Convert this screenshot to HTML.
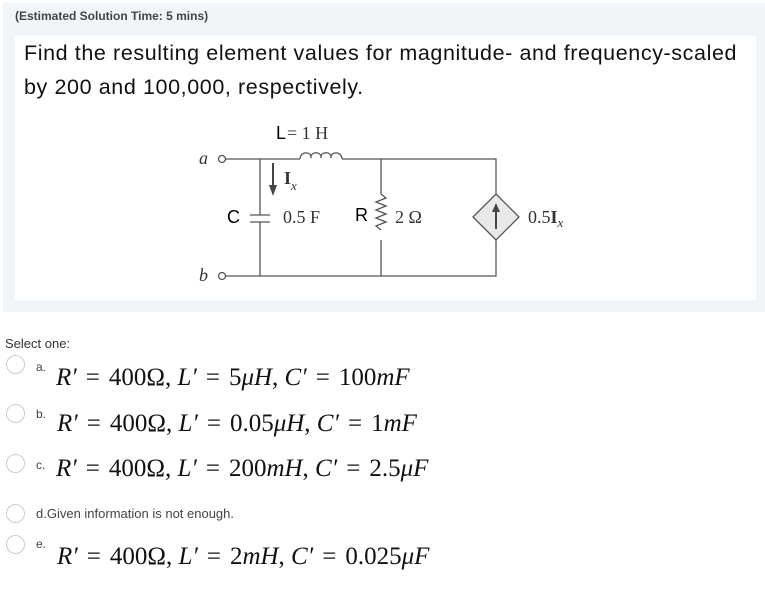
<!DOCTYPE html>
<html><head><style>
body{margin:0;width:765px;height:606px;background:#fff;position:relative;font-family:"Liberation Sans",sans-serif;overflow:hidden}
.abs{position:absolute}
.panel{left:3px;top:3px;width:762px;height:309px;background:#f2f5f8}
.box{left:15px;top:36px;width:741px;height:264px;background:#fff}
.q{left:24px;font-family:"Liberation Sans",sans-serif;font-size:21.5px;letter-spacing:0.6px;color:#111;white-space:nowrap}
.rad{width:17px;height:17px;border:1px solid #ccc;border-radius:50%;left:6px;background:#fff}
.lt{font-size:12px;color:#444}
.f{font-family:"Liberation Serif",serif;font-size:25px;color:#111;white-space:nowrap}
.f i{font-style:italic}
.e{margin:0 9px}
</style></head><body>
<div class="abs panel"></div>
<div class="abs box"></div>
<div class="abs" style="left:15px;top:9px;font-size:12px;font-weight:bold;color:#444">(Estimated Solution Time: 5 mins)</div>
<div class="abs q" style="top:41px">Find the resulting element values for magnitude- and frequency-scaled</div>
<div class="abs q" style="top:75px">by 200 and 100,000, respectively.</div>
<svg class="abs" style="left:0;top:0" width="765" height="310">
<g stroke="#555" stroke-width="1.3" fill="none">
<circle cx="222" cy="159" r="3.5" fill="#fff"/><circle cx="222" cy="276" r="3.5" fill="#fff"/>
<path d="M226 159H300 M342 159H496V194 M496 240V276H226 M260 159V215 M260 222V276 M381 159V194 M381 240V276"/>
<path d="M300 159C300 151 312 151 311 158C310 151 322 151 321 158C320 151 332 151 331 158C330 151 342 151 342 159"/>
<path d="M250 215H270M250 222H270"/>
<path d="M381 194l5 4-10 4 10 4-10 4 10 4-10 4 10 4-10 4 5 4"/>
<path d="M496 194L519 217L496 240L473 217Z" fill="#e8e8e8"/>
</g>
<path d="M273 163V186" stroke="#444" stroke-width="2"/><path d="M269 185L273 196L277 185Z" fill="#444"/>
<path d="M496 229V211" stroke="#444" stroke-width="2"/><path d="M492 212L496 203L500 212Z" fill="#444"/>
<g font-family="Liberation Serif,serif" font-size="18" fill="#333">
<text x="199" y="164" font-style="italic">a</text><text x="199" y="281" font-style="italic">b</text>
<text x="276" y="139" font-family="Liberation Sans,sans-serif" fill="#000">L</text><text x="287" y="139">= 1 H</text>
<text x="227" y="223" font-family="Liberation Sans,sans-serif" fill="#000">C</text><text x="283" y="223">0.5 F</text>
<text x="355" y="221" font-family="Liberation Sans,sans-serif" fill="#000">R</text><text x="395" y="223">2 Ω</text>
<text x="284" y="184" font-weight="bold">I</text><text x="291" y="190" font-style="italic" font-size="13">x</text>
<text x="528" y="223">0.5<tspan font-weight="bold">I</tspan><tspan font-style="italic" font-size="13" dy="4">x</tspan></text>
</g>
</svg>
<div class="abs" style="left:5px;top:336px;font-size:13px;color:#333">Select one:</div>
<div class="abs rad" style="top:355px"></div><div class="abs lt" style="left:36px;top:360px">a.</div>
<div class="abs f" style="left:56px;top:364px"><i>R′</i><span class="e">=</span>400Ω, <i>L′</i><span class="e">=</span>5<i>μH</i>, <i>C′</i><span class="e">=</span>100<i>mF</i></div>
<div class="abs rad" style="top:404px"></div><div class="abs lt" style="left:36px;top:407px">b.</div>
<div class="abs f" style="left:57px;top:410px"><i>R′</i><span class="e">=</span>400Ω, <i>L′</i><span class="e">=</span>0.05<i>μH</i>, <i>C′</i><span class="e">=</span>1<i>mF</i></div>
<div class="abs rad" style="top:454px"></div><div class="abs lt" style="left:36px;top:458px">c.</div>
<div class="abs f" style="left:56px;top:455px"><i>R′</i><span class="e">=</span>400Ω, <i>L′</i><span class="e">=</span>200<i>mH</i>, <i>C′</i><span class="e">=</span>2.5<i>μF</i></div>
<div class="abs rad" style="top:504px"></div>
<div class="abs" style="left:36px;top:506px;font-size:13px;color:#444">d.Given information is not enough.</div>
<div class="abs rad" style="top:535px"></div><div class="abs lt" style="left:36px;top:537px">e.</div>
<div class="abs f" style="left:57px;top:543px"><i>R′</i><span class="e">=</span>400Ω, <i>L′</i><span class="e">=</span>2<i>mH</i>, <i>C′</i><span class="e">=</span>0.025<i>μF</i></div>
</body></html>
